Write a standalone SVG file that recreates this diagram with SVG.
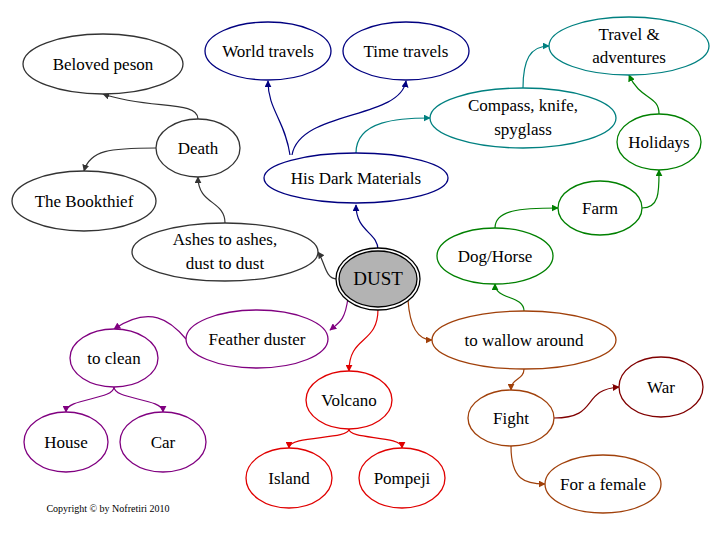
<svg xmlns="http://www.w3.org/2000/svg" width="720" height="540" viewBox="0 0 720 540">
<style>
text{font-family:"Liberation Serif","Times New Roman","DejaVu Serif",serif;text-anchor:middle;fill:#000}
.node{fill:#fff;stroke-width:1.3}
#connectors path{fill:none;stroke-width:1.2}
.nv{stroke:#000080}.tl{stroke:#008080}.gr{stroke:#008000}.br{stroke:#a0400a}.dr{stroke:#800000}.rd{stroke:#e00000}.pu{stroke:#800080}.bk{stroke:#333}
</style>
<defs>
<marker id="a-nv" viewBox="0 0 10 10" refX="9" refY="5" markerWidth="7" markerHeight="7" orient="auto" markerUnits="userSpaceOnUse"><path d="M0,0L10,5L0,10z" fill="#000080"/></marker>
<marker id="a-tl" viewBox="0 0 10 10" refX="9" refY="5" markerWidth="7" markerHeight="7" orient="auto" markerUnits="userSpaceOnUse"><path d="M0,0L10,5L0,10z" fill="#008080"/></marker>
<marker id="a-gr" viewBox="0 0 10 10" refX="9" refY="5" markerWidth="7" markerHeight="7" orient="auto" markerUnits="userSpaceOnUse"><path d="M0,0L10,5L0,10z" fill="#008000"/></marker>
<marker id="a-br" viewBox="0 0 10 10" refX="9" refY="5" markerWidth="7" markerHeight="7" orient="auto" markerUnits="userSpaceOnUse"><path d="M0,0L10,5L0,10z" fill="#a0400a"/></marker>
<marker id="a-dr" viewBox="0 0 10 10" refX="9" refY="5" markerWidth="7" markerHeight="7" orient="auto" markerUnits="userSpaceOnUse"><path d="M0,0L10,5L0,10z" fill="#800000"/></marker>
<marker id="a-rd" viewBox="0 0 10 10" refX="9" refY="5" markerWidth="7" markerHeight="7" orient="auto" markerUnits="userSpaceOnUse"><path d="M0,0L10,5L0,10z" fill="#e00000"/></marker>
<marker id="a-pu" viewBox="0 0 10 10" refX="9" refY="5" markerWidth="7" markerHeight="7" orient="auto" markerUnits="userSpaceOnUse"><path d="M0,0L10,5L0,10z" fill="#800080"/></marker>
<marker id="a-bk" viewBox="0 0 10 10" refX="9" refY="5" markerWidth="7" markerHeight="7" orient="auto" markerUnits="userSpaceOnUse"><path d="M0,0L10,5L0,10z" fill="#333"/></marker>
</defs>
<rect width="720" height="540" fill="#fff"/>
<g id="connectors">
<path class="nv" marker-end="url(#a-nv)" d="M378,250 C378,232 356,232 356,205"/>
<path class="nv" marker-end="url(#a-nv)" d="M290,155 C285,120 268,110 268,81"/>
<path class="nv" marker-end="url(#a-nv)" d="M292,155 C300,110 400,120 406,81"/>
<path class="tl" marker-end="url(#a-tl)" d="M356,153 C356,120 400,118 430,118"/>
<path class="tl" marker-end="url(#a-tl)" d="M523,88 C523,60 530,46 549,46"/>
<path class="gr" marker-end="url(#a-gr)" d="M659,114 C659,95 640,100 629,75"/>
<path class="gr" marker-end="url(#a-gr)" d="M642,208 C660,208 659,190 659,170"/>
<path class="gr" marker-end="url(#a-gr)" d="M495,228 C495,210 520,208 558,208"/>
<path class="gr" marker-end="url(#a-gr)" d="M524,311 C524,295 495,300 495,284"/>
<path class="br" marker-end="url(#a-br)" d="M408,300 C410,330 420,340 432,340"/>
<path class="br" marker-end="url(#a-br)" d="M524,369 C524,380 511,378 511,390"/>
<path class="dr" marker-end="url(#a-dr)" d="M554,418 C600,418 580,390 619,387"/>
<path class="br" marker-end="url(#a-br)" d="M511,446 C511,480 525,484 545,484"/>
<path class="rd" marker-end="url(#a-rd)" d="M378,309 C378,345 349,335 349,371"/>
<path class="rd" marker-end="url(#a-rd)" d="M349,429 C349,440 289,435 289,448"/>
<path class="rd" marker-end="url(#a-rd)" d="M349,429 C349,440 402,435 402,448"/>
<path class="pu" marker-end="url(#a-pu)" d="M348,298 C345,320 340,322 330,330"/>
<path class="pu" marker-end="url(#a-pu)" d="M186,339 C170,320 150,305 114,329"/>
<path class="pu" marker-end="url(#a-pu)" d="M114,387 C114,400 66,398 66,412"/>
<path class="pu" marker-end="url(#a-pu)" d="M114,387 C114,400 163,398 163,412"/>
<path class="bk" marker-end="url(#a-bk)" d="M337,279 C325,279 325,262 318,252"/>
<path class="bk" marker-end="url(#a-bk)" d="M225,223 C225,200 198,205 198,177"/>
<path class="bk" marker-end="url(#a-bk)" d="M198,119 C198,100 150,110 103,94"/>
<path class="bk" marker-end="url(#a-bk)" d="M156,148 C110,148 90,150 84,171"/>
</g>
<g id="dust"><ellipse cx="378" cy="279" rx="42" ry="31" stroke="#000" stroke-width="1.3" fill="#fff"/><ellipse cx="378" cy="279" rx="39" ry="28" fill="#b3b3b3" stroke="#000" stroke-width="1.3"/><text x="378" y="285" style="font-size:19px">DUST</text></g>
<g id="hdm"><ellipse class="node nv" cx="356" cy="178" rx="92" ry="25"/><text x="356" y="184" style="font-size:17px">His Dark Materials</text></g>
<g id="world"><ellipse class="node nv" cx="268" cy="51" rx="63" ry="29"/><text x="268" y="57" style="font-size:17px">World travels</text></g>
<g id="time"><ellipse class="node nv" cx="406" cy="51" rx="63" ry="29"/><text x="406" y="57" style="font-size:17px">Time travels</text></g>
<g id="compass"><ellipse class="node tl" cx="523" cy="118" rx="93" ry="30"/><text x="523" y="111" style="font-size:17px">Compass, knife,</text><text x="523" y="135" style="font-size:17px">spyglass</text></g>
<g id="travel"><ellipse class="node tl" cx="629" cy="46" rx="80" ry="29"/><text x="629" y="40" style="font-size:17px">Travel &amp;</text><text x="629" y="63" style="font-size:17px">adventures</text></g>
<g id="holidays"><ellipse class="node gr" cx="659" cy="142" rx="42" ry="28"/><text x="659" y="148" style="font-size:17px">Holidays</text></g>
<g id="farm"><ellipse class="node gr" cx="600" cy="208" rx="42" ry="27"/><text x="600" y="214" style="font-size:17px">Farm</text></g>
<g id="dog"><ellipse class="node gr" cx="495" cy="256" rx="58" ry="28"/><text x="495" y="262" style="font-size:17px">Dog/Horse</text></g>
<g id="wallow"><ellipse class="node br" cx="524" cy="340" rx="92" ry="29"/><text x="524" y="346" style="font-size:17px">to wallow around</text></g>
<g id="fight"><ellipse class="node br" cx="511" cy="418" rx="43" ry="28"/><text x="511" y="424" style="font-size:17px">Fight</text></g>
<g id="war"><ellipse class="node dr" cx="661" cy="387" rx="42" ry="30"/><text x="661" y="393" style="font-size:17px">War</text></g>
<g id="female"><ellipse class="node br" cx="603" cy="484" rx="58" ry="29"/><text x="603" y="490" style="font-size:17px">For a female</text></g>
<g id="volcano"><ellipse class="node rd" cx="349" cy="400" rx="43" ry="29"/><text x="349" y="406" style="font-size:17px">Volcano</text></g>
<g id="island"><ellipse class="node rd" cx="289" cy="478" rx="43" ry="30"/><text x="289" y="484" style="font-size:17px">Island</text></g>
<g id="pompeji"><ellipse class="node rd" cx="402" cy="478" rx="43" ry="30"/><text x="402" y="484" style="font-size:17px">Pompeji</text></g>
<g id="feather"><ellipse class="node pu" cx="257" cy="339" rx="71" ry="29"/><text x="257" y="345" style="font-size:17px">Feather duster</text></g>
<g id="clean"><ellipse class="node pu" cx="114" cy="358" rx="44" ry="29"/><text x="114" y="364" style="font-size:17px">to clean</text></g>
<g id="house"><ellipse class="node pu" cx="66" cy="442" rx="42" ry="30"/><text x="66" y="448" style="font-size:17px">House</text></g>
<g id="car"><ellipse class="node pu" cx="163" cy="442" rx="43" ry="30"/><text x="163" y="448" style="font-size:17px">Car</text></g>
<g id="ashes"><ellipse class="node bk" cx="225" cy="252" rx="93" ry="29"/><text x="225" y="245" style="font-size:17px">Ashes to ashes,</text><text x="225" y="269" style="font-size:17px">dust to dust</text></g>
<g id="death"><ellipse class="node bk" cx="198" cy="148" rx="42" ry="29"/><text x="198" y="154" style="font-size:17px">Death</text></g>
<g id="beloved"><ellipse class="node bk" cx="103" cy="64" rx="80" ry="30"/><text x="103" y="70" style="font-size:17px">Beloved peson</text></g>
<g id="bookthief"><ellipse class="node bk" cx="84" cy="201" rx="72" ry="30"/><text x="84" y="207" style="font-size:17px">The Bookthief</text></g>
<text x="108" y="512" style="font-size:10px">Copyright © by Nofretiri 2010</text>
</svg>
